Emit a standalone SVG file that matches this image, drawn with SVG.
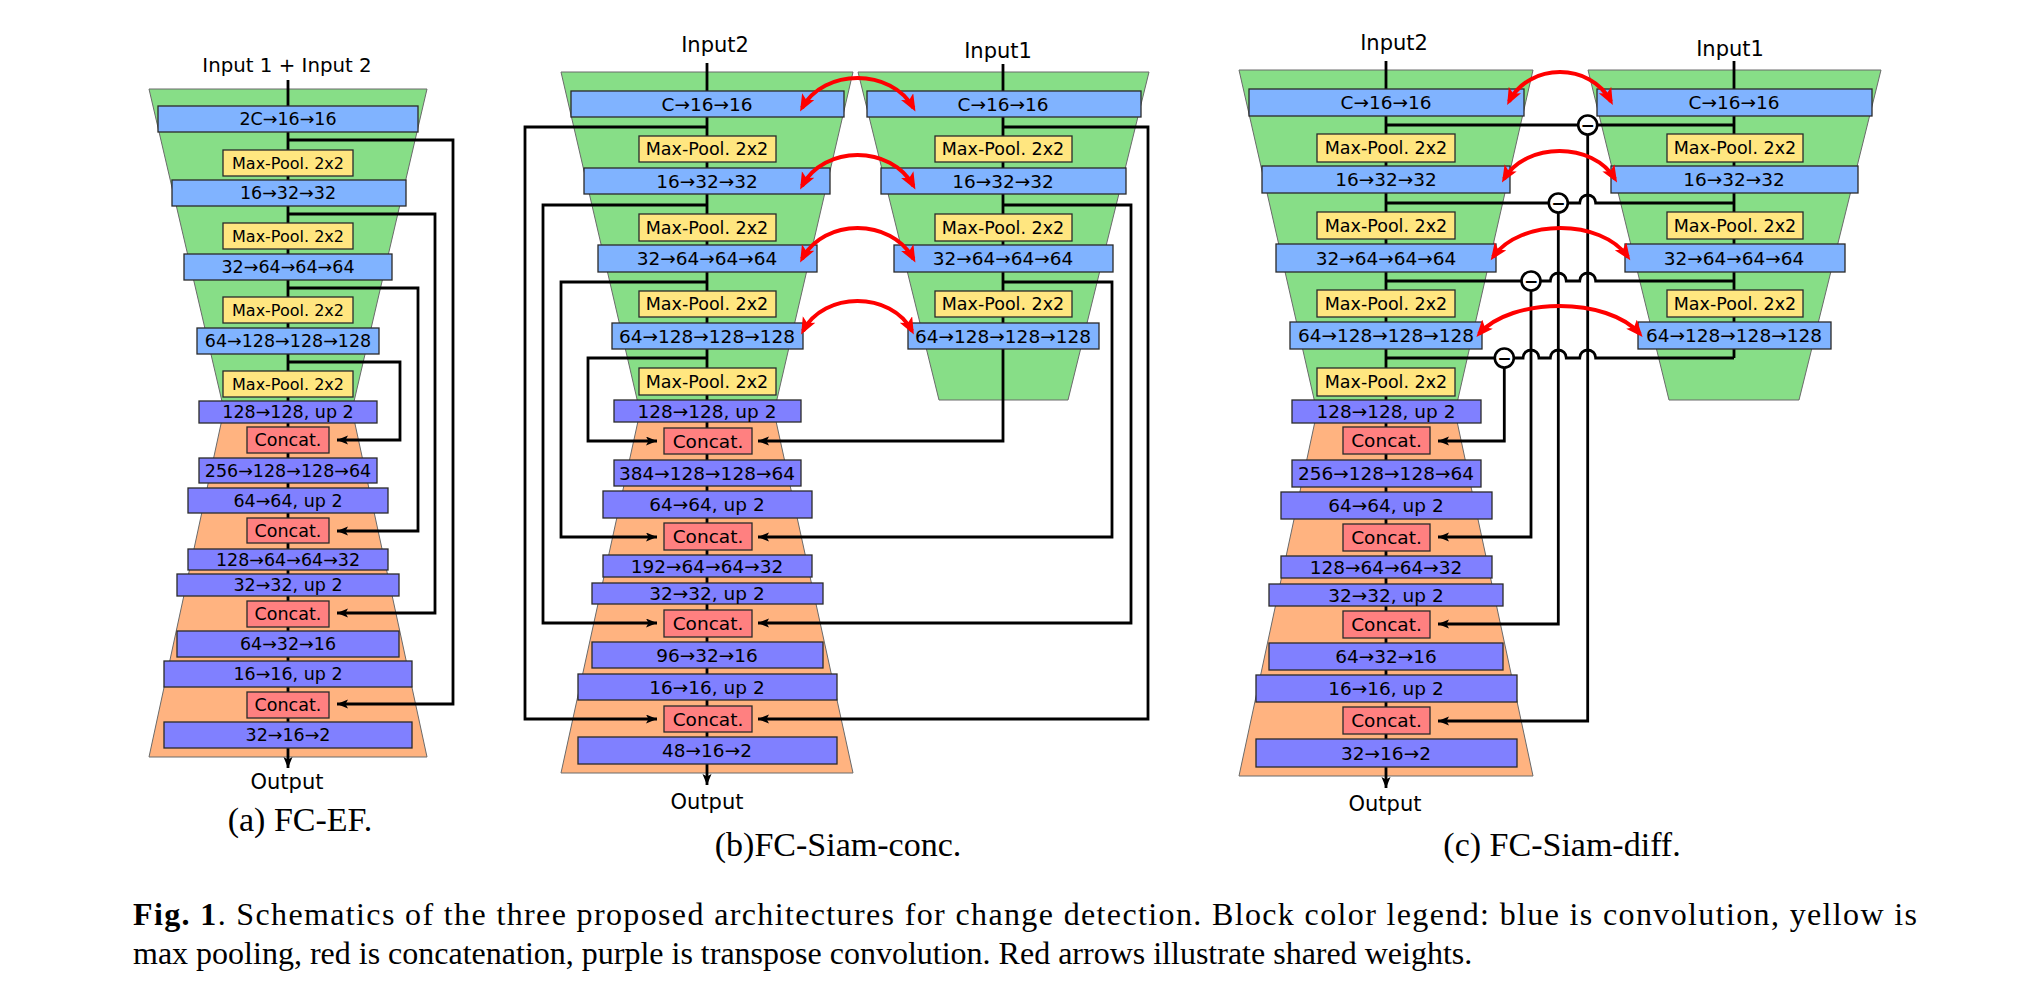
<svg xmlns="http://www.w3.org/2000/svg" width="2021" height="1003" viewBox="0 0 2021 1003">
<defs>
<style>
.g{fill:#87de87;stroke:#6a6a6a;stroke-width:1}
.o{fill:#ffb380;stroke:#6a6a6a;stroke-width:1}
.cv rect{fill:#80b3ff;stroke:#2a2a2a;stroke-width:1.3}
.mp rect{fill:#ffe680;stroke:#2a2a2a;stroke-width:1.3}
.up rect{fill:#8080ff;stroke:#2a2a2a;stroke-width:1.3}
.cc rect{fill:#ff8080;stroke:#2a2a2a;stroke-width:1.3}
text{font-family:"DejaVu Sans",sans-serif;text-anchor:middle;fill:#000}
.a text{font-size:17.5px}
.a .mp text{font-size:16px}
.b text{font-size:18.5px}
.b .mp text{font-size:17.5px}
.a text.io,.b text.io{font-size:21px}
.a text.io2{font-size:19.8px}
.ln{fill:none;stroke:#000;stroke-width:2.8}
.ar{marker-end:url(#ah)}
.ra{fill:none;stroke:#f00;stroke-width:4;marker-start:url(#rh);marker-end:url(#rh)}
.dc circle{fill:#fff;stroke:#000;stroke-width:2.6}
.b .dc text{font-size:17px;font-weight:bold}
.cap{font-family:"Liberation Serif",serif;font-size:34px}
.fig{font-family:"Liberation Serif",serif;font-size:32px;text-anchor:start}
</style>
<marker id="ah" markerUnits="userSpaceOnUse" markerWidth="12" markerHeight="10" refX="11" refY="4.5" orient="auto"><path d="M0,0 L11,4.5 L0,9 L2.5,4.5 Z" fill="#000"/></marker>
<marker id="rh" markerUnits="userSpaceOnUse" markerWidth="18" markerHeight="16" refX="13" refY="7" orient="auto-start-reverse"><path d="M0,0 L17,7 L0,14 L4,7 Z" fill="#f00"/></marker>
</defs>
<rect width="2021" height="1003" fill="#fff"/>

<!-- ===== Panel (a) ===== -->
<g id="panel-a" class="a">
<polygon class="g" points="149,89 427,89 352,410 224,410"/>
<polygon class="o" points="224,410 352,410 427,757 149,757"/>
<g id="a-connectors">
<path class="ln ar" d="M288,80 V768"/>
<path class="ln ar" d="M288,140 H453 V704 H337"/>
<path class="ln ar" d="M288,214 H435 V613 H337"/>
<path class="ln ar" d="M288,288 H418 V531 H337"/>
<path class="ln ar" d="M288,362 H400 V440 H337"/>
</g>
<text class="io2" x="287" y="72">Input 1 + Input 2</text>
<text class="io" x="287" y="789">Output</text>
<g id="a-conv1" class="cv"><rect x="158" y="106" width="260" height="26"/><text x="288" y="125.2">2C→16→16</text></g>
<g id="a-pool1" class="mp"><rect x="223" y="150" width="130" height="26"/><text x="288" y="168.8">Max-Pool. 2x2</text></g>
<g id="a-conv2" class="cv"><rect x="172" y="180" width="234" height="26"/><text x="288" y="199.2">16→32→32</text></g>
<g id="a-pool2" class="mp"><rect x="223" y="223" width="130" height="26"/><text x="288" y="241.8">Max-Pool. 2x2</text></g>
<g id="a-conv3" class="cv"><rect x="184" y="254" width="208" height="26"/><text x="288" y="273.2">32→64→64→64</text></g>
<g id="a-pool3" class="mp"><rect x="223" y="297" width="130" height="26"/><text x="288" y="315.8">Max-Pool. 2x2</text></g>
<g id="a-conv4" class="cv"><rect x="197" y="328" width="182" height="26"/><text x="288" y="347.2">64→128→128→128</text></g>
<g id="a-pool4" class="mp"><rect x="223" y="371" width="130" height="26"/><text x="288" y="389.8">Max-Pool. 2x2</text></g>
<g id="a-up1" class="up"><rect x="199" y="401" width="178" height="22"/><text x="288" y="418.2">128→128, up 2</text></g>
<g id="a-cat1" class="cc"><rect x="247" y="427" width="82" height="26"/><text x="288" y="446.2">Concat.</text></g>
<g id="a-dec1" class="up"><rect x="199" y="458" width="178" height="25"/><text x="288" y="476.8">256→128→128→64</text></g>
<g id="a-up2" class="up"><rect x="188" y="488" width="200" height="25"/><text x="288" y="506.8">64→64, up 2</text></g>
<g id="a-cat2" class="cc"><rect x="247" y="518" width="82" height="25"/><text x="288" y="536.8">Concat.</text></g>
<g id="a-dec2" class="up"><rect x="188" y="549" width="200" height="21"/><text x="288" y="565.8">128→64→64→32</text></g>
<g id="a-up3" class="up"><rect x="177" y="574" width="222" height="22"/><text x="288" y="591.2">32→32, up 2</text></g>
<g id="a-cat3" class="cc"><rect x="247" y="601" width="82" height="26"/><text x="288" y="620.2">Concat.</text></g>
<g id="a-dec3" class="up"><rect x="177" y="631" width="222" height="26"/><text x="288" y="650.2">64→32→16</text></g>
<g id="a-up4" class="up"><rect x="164" y="661" width="248" height="26"/><text x="288" y="680.2">16→16, up 2</text></g>
<g id="a-cat4" class="cc"><rect x="247" y="692" width="82" height="26"/><text x="288" y="711.2">Concat.</text></g>
<g id="a-dec4" class="up"><rect x="164" y="722" width="248" height="26"/><text x="288" y="741.2">32→16→2</text></g>
</g>

<!-- ===== Panel (b) ===== -->
<g id="panel-b" class="b">
<polygon class="g" points="561,72 853,72 774,412 640,412"/>
<polygon class="o" points="640,412 774,412 853,773 561,773"/>
<polygon class="g" points="858,72 1149,72 1068,400 939,400"/>
<g id="b-connectors">
<path class="ln ar" d="M707,63 V785"/>
<path class="ln ar" d="M1003,64 V441 H758"/>
<path class="ln ar" d="M1003,127 H1148 V719 H758"/>
<path class="ln ar" d="M1003,205 H1131 V623 H758"/>
<path class="ln ar" d="M1003,282 H1112 V537 H758"/>
<path class="ln ar" d="M707,127 H525 V719 H657"/>
<path class="ln ar" d="M707,205 H543 V623 H657"/>
<path class="ln ar" d="M707,282 H561 V537 H657"/>
<path class="ln ar" d="M707,358 H588 V441 H657"/>
</g>
<text class="io" x="715" y="52">Input2</text>
<text class="io" x="998" y="58">Input1</text>
<text class="io" x="707" y="809">Output</text>
<g id="b2-conv1" class="cv"><rect x="571" y="91" width="273" height="26"/><text x="707" y="110.7">C→16→16</text></g>
<g id="b2-pool1" class="mp"><rect x="639" y="136" width="137" height="26"/><text x="707" y="155.3">Max-Pool. 2x2</text></g>
<g id="b2-conv2" class="cv"><rect x="584" y="168" width="246" height="26"/><text x="707" y="187.7">16→32→32</text></g>
<g id="b2-pool2" class="mp"><rect x="639" y="214" width="137" height="27"/><text x="707" y="233.8">Max-Pool. 2x2</text></g>
<g id="b2-conv3" class="cv"><rect x="598" y="245" width="219" height="27"/><text x="707" y="265.2">32→64→64→64</text></g>
<g id="b2-pool3" class="mp"><rect x="639" y="291" width="137" height="26"/><text x="707" y="310.3">Max-Pool. 2x2</text></g>
<g id="b2-conv4" class="cv"><rect x="612" y="323" width="191" height="26"/><text x="707" y="342.7">64→128→128→128</text></g>
<g id="b2-pool4" class="mp"><rect x="639" y="368" width="137" height="27"/><text x="707" y="387.8">Max-Pool. 2x2</text></g>
<g id="b-up1" class="up"><rect x="614" y="400" width="187" height="22"/><text x="707" y="417.7">128→128, up 2</text></g>
<g id="b-cat1" class="cc"><rect x="664" y="428" width="88" height="26"/><text x="708" y="447.7">Concat.</text></g>
<g id="b-dec1" class="up"><rect x="614" y="460" width="187" height="26"/><text x="707" y="479.7">384→128→128→64</text></g>
<g id="b-up2" class="up"><rect x="603" y="491" width="209" height="27"/><text x="707" y="511.2">64→64, up 2</text></g>
<g id="b-cat2" class="cc"><rect x="664" y="523" width="88" height="27"/><text x="708" y="543.2">Concat.</text></g>
<g id="b-dec2" class="up"><rect x="603" y="555" width="209" height="22"/><text x="707" y="572.7">192→64→64→32</text></g>
<g id="b-up3" class="up"><rect x="592" y="583" width="231" height="21"/><text x="707" y="600.2">32→32, up 2</text></g>
<g id="b-cat3" class="cc"><rect x="664" y="610" width="88" height="27"/><text x="708" y="630.2">Concat.</text></g>
<g id="b-dec3" class="up"><rect x="592" y="642" width="231" height="26"/><text x="707" y="661.7">96→32→16</text></g>
<g id="b-up4" class="up"><rect x="578" y="674" width="259" height="26"/><text x="707" y="693.7">16→16, up 2</text></g>
<g id="b-cat4" class="cc"><rect x="664" y="706" width="88" height="26"/><text x="708" y="725.7">Concat.</text></g>
<g id="b-dec4" class="up"><rect x="578" y="737" width="259" height="27"/><text x="707" y="757.2">48→16→2</text></g>
<g id="b1-conv1" class="cv"><rect x="867" y="91" width="274" height="26"/><text x="1003" y="110.7">C→16→16</text></g>
<g id="b1-pool1" class="mp"><rect x="935" y="136" width="137" height="26"/><text x="1003" y="155.3">Max-Pool. 2x2</text></g>
<g id="b1-conv2" class="cv"><rect x="881" y="168" width="245" height="26"/><text x="1003" y="187.7">16→32→32</text></g>
<g id="b1-pool2" class="mp"><rect x="935" y="214" width="137" height="27"/><text x="1003" y="233.8">Max-Pool. 2x2</text></g>
<g id="b1-conv3" class="cv"><rect x="894" y="245" width="219" height="27"/><text x="1003" y="265.2">32→64→64→64</text></g>
<g id="b1-pool3" class="mp"><rect x="935" y="291" width="137" height="26"/><text x="1003" y="310.3">Max-Pool. 2x2</text></g>
<g id="b1-conv4" class="cv"><rect x="908" y="323" width="191" height="26"/><text x="1003" y="342.7">64→128→128→128</text></g>
<g id="b-shared">
<path class="ra" d="M802,108 C824,68 891,68 913.5,108"/>
<path class="ra" d="M802,186 C824,144.7 891,144.7 913.5,186"/>
<path class="ra" d="M802,259 C824,217.7 891,217.7 913.5,259"/>
<path class="ra" d="M803,331 C824,291 891,291 912,331"/>
</g>
</g>

<!-- ===== Panel (c) ===== -->
<g id="panel-c" class="b">
<polygon class="g" points="1239,70 1533,70 1455,412 1317,412"/>
<polygon class="o" points="1317,412 1455,412 1533,776 1239,776"/>
<polygon class="g" points="1588,70 1881,70 1799,400 1669,400"/>
<g id="c-connectors">
<path class="ln ar" d="M1386,61 V788"/>
<path class="ln" d="M1734,61 V358"/>
<path class="ln" d="M1386,125 H1734"/>
<path class="ln" d="M1386,203 H1579.7 A8,8 0 0 1 1595.7,203 H1734"/>
<path class="ln" d="M1386,281 H1550.3 A8,8 0 0 1 1566.3,281 H1579.7 A8,8 0 0 1 1595.7,281 H1734"/>
<path class="ln" d="M1386,358 H1523 A8,8 0 0 1 1539,358 H1550.3 A8,8 0 0 1 1566.3,358 H1579.7 A8,8 0 0 1 1595.7,358 H1734"/>
<path class="ln ar" d="M1587.7,125 V721 H1438"/>
<path class="ln ar" d="M1558.3,203 V624 H1438"/>
<path class="ln ar" d="M1531,281 V537 H1438"/>
<path class="ln ar" d="M1504.3,358 V441 H1438"/>
</g>
<g id="c-diff1" class="dc"><circle cx="1587.7" cy="125" r="9.5"/><text x="1587.7" y="130.5">−</text></g>
<g id="c-diff2" class="dc"><circle cx="1558.3" cy="203" r="9.5"/><text x="1558.3" y="208.5">−</text></g>
<g id="c-diff3" class="dc"><circle cx="1531" cy="281" r="9.5"/><text x="1531" y="286.5">−</text></g>
<g id="c-diff4" class="dc"><circle cx="1504.3" cy="358" r="9.5"/><text x="1504.3" y="363.5">−</text></g>
<text class="io" x="1394" y="50">Input2</text>
<text class="io" x="1730" y="56">Input1</text>
<text class="io" x="1385" y="811">Output</text>
<g id="c2-conv1" class="cv"><rect x="1249" y="89" width="275" height="27"/><text x="1386" y="109.2">C→16→16</text></g>
<g id="c2-pool1" class="mp"><rect x="1317" y="134" width="138" height="28"/><text x="1386" y="154.3">Max-Pool. 2x2</text></g>
<g id="c2-conv2" class="cv"><rect x="1262" y="166" width="248" height="27"/><text x="1386" y="186.2">16→32→32</text></g>
<g id="c2-pool2" class="mp"><rect x="1317" y="212" width="138" height="27"/><text x="1386" y="231.8">Max-Pool. 2x2</text></g>
<g id="c2-conv3" class="cv"><rect x="1276" y="244" width="220" height="28"/><text x="1386" y="264.7">32→64→64→64</text></g>
<g id="c2-pool3" class="mp"><rect x="1317" y="290" width="138" height="27"/><text x="1386" y="309.8">Max-Pool. 2x2</text></g>
<g id="c2-conv4" class="cv"><rect x="1290" y="322" width="192" height="27"/><text x="1386" y="342.2">64→128→128→128</text></g>
<g id="c2-pool4" class="mp"><rect x="1317" y="368" width="138" height="28"/><text x="1386" y="388.3">Max-Pool. 2x2</text></g>
<g id="c-up1" class="up"><rect x="1292" y="400" width="189" height="23"/><text x="1386" y="418.2">128→128, up 2</text></g>
<g id="c-cat1" class="cc"><rect x="1343" y="427" width="87" height="27"/><text x="1386.5" y="447.2">Concat.</text></g>
<g id="c-dec1" class="up"><rect x="1292" y="460" width="189" height="27"/><text x="1386" y="480.2">256→128→128→64</text></g>
<g id="c-up2" class="up"><rect x="1281" y="492" width="211" height="27"/><text x="1386" y="512.2">64→64, up 2</text></g>
<g id="c-cat2" class="cc"><rect x="1343" y="524" width="87" height="27"/><text x="1386.5" y="544.2">Concat.</text></g>
<g id="c-dec2" class="up"><rect x="1281" y="556" width="211" height="22"/><text x="1386" y="573.7">128→64→64→32</text></g>
<g id="c-up3" class="up"><rect x="1269" y="584" width="234" height="22"/><text x="1386" y="601.7">32→32, up 2</text></g>
<g id="c-cat3" class="cc"><rect x="1343" y="611" width="87" height="27"/><text x="1386.5" y="631.2">Concat.</text></g>
<g id="c-dec3" class="up"><rect x="1269" y="643" width="234" height="27"/><text x="1386" y="663.2">64→32→16</text></g>
<g id="c-up4" class="up"><rect x="1256" y="675" width="261" height="27"/><text x="1386" y="695.2">16→16, up 2</text></g>
<g id="c-cat4" class="cc"><rect x="1343" y="707" width="87" height="27"/><text x="1386.5" y="727.2">Concat.</text></g>
<g id="c-dec4" class="up"><rect x="1256" y="739" width="261" height="28"/><text x="1386" y="759.7">32→16→2</text></g>
<g id="c1-conv1" class="cv"><rect x="1597" y="89" width="275" height="27"/><text x="1734" y="109.2">C→16→16</text></g>
<g id="c1-pool1" class="mp"><rect x="1667" y="134" width="136" height="28"/><text x="1735" y="154.3">Max-Pool. 2x2</text></g>
<g id="c1-conv2" class="cv"><rect x="1611" y="166" width="247" height="27"/><text x="1734" y="186.2">16→32→32</text></g>
<g id="c1-pool2" class="mp"><rect x="1667" y="212" width="136" height="27"/><text x="1735" y="231.8">Max-Pool. 2x2</text></g>
<g id="c1-conv3" class="cv"><rect x="1625" y="244" width="220" height="28"/><text x="1734" y="264.7">32→64→64→64</text></g>
<g id="c1-pool3" class="mp"><rect x="1667" y="290" width="136" height="27"/><text x="1735" y="309.8">Max-Pool. 2x2</text></g>
<g id="c1-conv4" class="cv"><rect x="1638" y="322" width="193" height="27"/><text x="1734" y="342.2">64→128→128→128</text></g>
<g id="c-shared">
<path class="ra" d="M1509,101.5 C1529.4,62.2 1590.6,62.2 1611,101.5"/>
<path class="ra" d="M1504,179 C1526.2,141.7 1592.8,141.7 1615,179"/>
<path class="ra" d="M1493,257 C1520,218.3 1601,218.3 1628,257"/>
<path class="ra" d="M1479,334 C1511.2,296.7 1607.8,296.7 1640,334"/>
</g>
</g>

<!-- ===== Captions ===== -->
<text class="cap" x="300" y="831">(a) FC-EF.</text>
<text class="cap" x="838" y="856">(b)FC-Siam-conc.</text>
<text class="cap" x="1562" y="856">(c) FC-Siam-diff.</text>
<text class="fig" x="133" y="925" textLength="1784" lengthAdjust="spacing"><tspan font-weight="bold">Fig. 1</tspan>. Schematics of the three proposed architectures for change detection. Block color legend: blue is convolution, yellow is</text>
<text class="fig" x="133" y="964">max pooling, red is concatenation, purple is transpose convolution. Red arrows illustrate shared weights.</text>
</svg>
